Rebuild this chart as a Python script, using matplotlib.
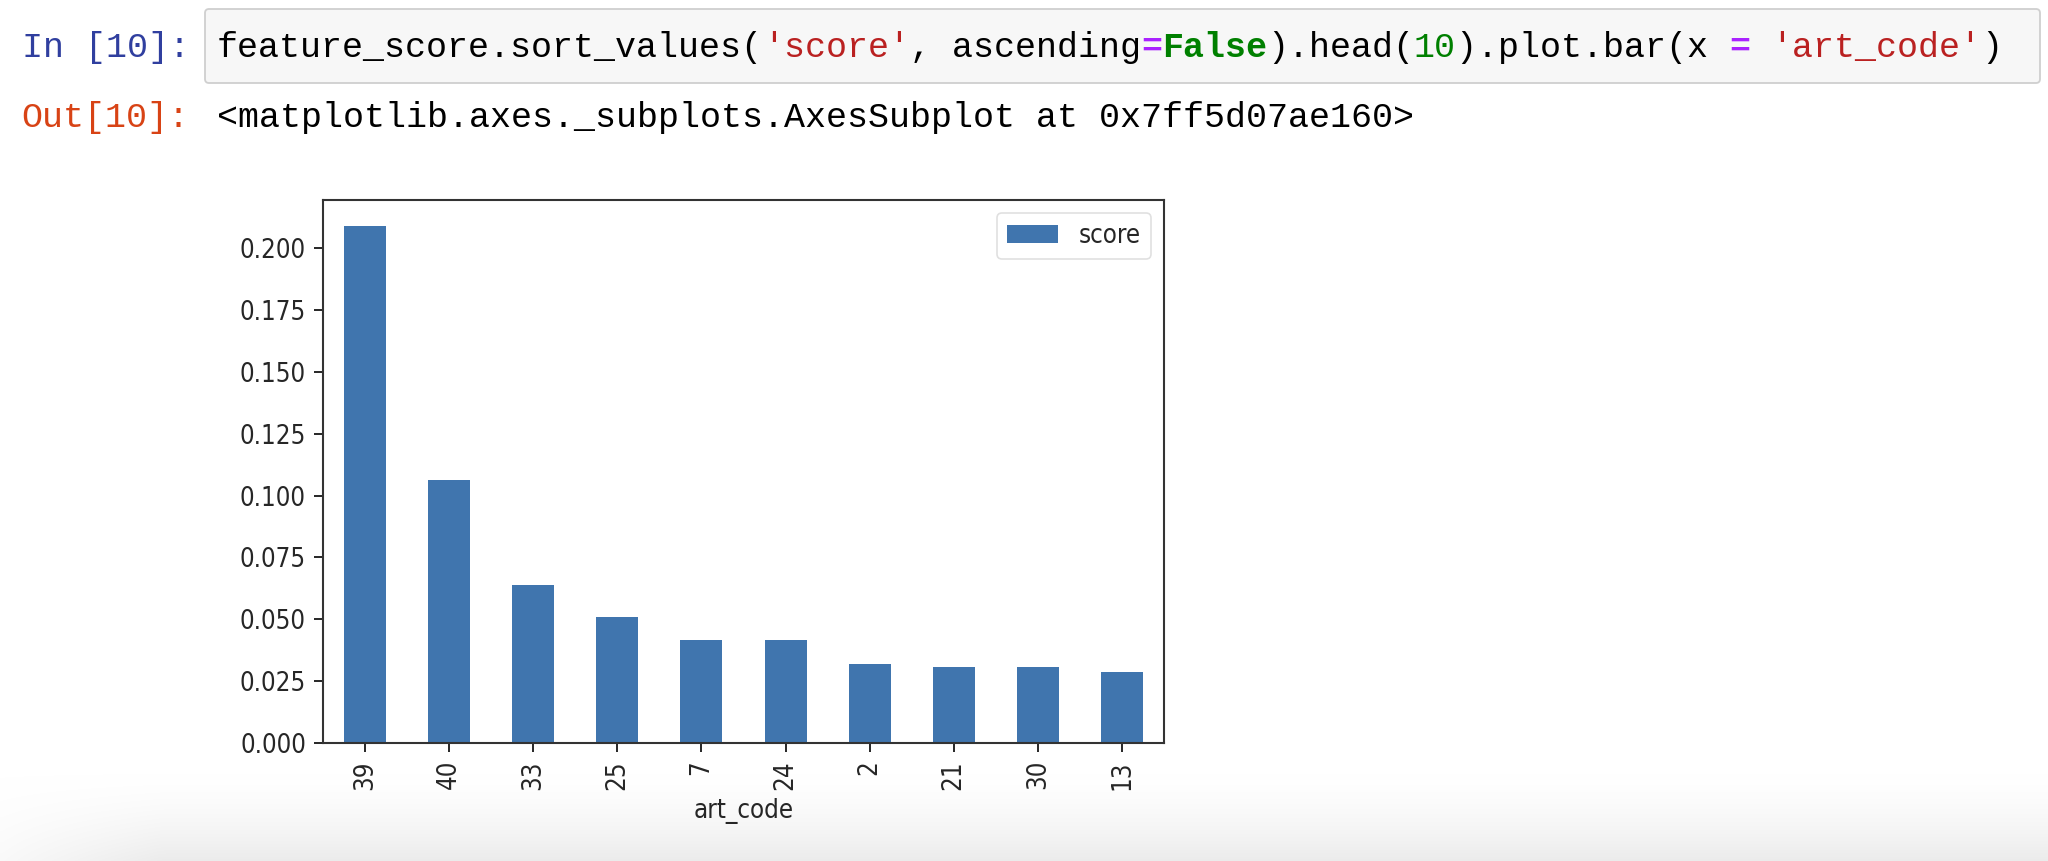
import numpy as np
import matplotlib
matplotlib.use("Agg")
import matplotlib.pyplot as plt
from matplotlib.patches import FancyBboxPatch
from matplotlib import font_manager

# ---- data ----
art_codes = ["39", "40", "33", "25", "7", "24", "2", "21", "30", "13"]
scores = [0.2090, 0.1062, 0.0638, 0.0510, 0.0418, 0.0418, 0.0318, 0.0307, 0.0307, 0.0286]
series_name = "score"
x_label = "art_code"

code_segments = [
    ("feature_score.sort_values(", "#000000", "normal"),
    ("'score'", "#BA2121", "normal"),
    (", ascending", "#000000", "normal"),
    ("=", "#AA22FF", "bold"),
    ("False", "#008000", "bold"),
    (").head(", "#000000", "normal"),
    ("10", "#008000", "normal"),
    (").plot.bar(x ", "#000000", "normal"),
    ("=", "#AA22FF", "bold"),
    (" ", "#000000", "normal"),
    ("'art_code'", "#BA2121", "normal"),
    (")", "#000000", "normal"),
]
in_prompt = "In [10]:"
out_prompt = "Out[10]:"
out_text = "<matplotlib.axes._subplots.AxesSubplot at 0x7ff5d07ae160>"

# pick a narrow sans font for the chart (the screenshot's chart text is squeezed)
chart_fp = None
for fe in font_manager.fontManager.ttflist:
    if fe.name == "DejaVu Sans" and str(fe.stretch) in ("condensed", "semi-condensed") \
            and fe.style == "normal" and str(fe.weight) in ("400", "normal"):
        chart_fp = fe.fname
        break
if chart_fp is None:
    for fe in font_manager.fontManager.ttflist:
        if fe.name == "Liberation Sans Narrow" and fe.style == "normal" and str(fe.weight) in ("400", "normal"):
            chart_fp = fe.fname
            break

def cfp(size):
    if chart_fp:
        return font_manager.FontProperties(fname=chart_fp, size=size)
    return font_manager.FontProperties(family="DejaVu Sans", size=size)

W, H = 2048, 861
DPI = 100
fig = plt.figure(figsize=(W / DPI, H / DPI), dpi=DPI)
fig.patch.set_facecolor("white")

bg = fig.add_axes([0, 0, 1, 1], zorder=0)
bg.set_xlim(0, W)
bg.set_ylim(H, 0)
bg.axis("off")

# bottom shadow gradient
gy0 = 770
ny, nx = 100, 400
yy = np.linspace(0, 1, ny)[:, None]
xx = np.linspace(0, 1, nx)[None, :]
fx = np.clip(xx * W / 160.0, 0, 1)
alpha = (yy ** 1.6) * (0.3 + 0.7 * fx)
grad = np.ones((ny, nx, 4))
grad[..., :3] = 0.90
grad[..., 3] = alpha * 0.75
bg.imshow(grad, extent=(0, W, H, gy0), aspect="auto", interpolation="bilinear", zorder=0)

mono = "Liberation Mono"
fs = 25.2
adv = 0.6 * fs * DPI / 72.0  # px per char

box = FancyBboxPatch((205, 9), 2040 - 205, 83 - 9,
                     boxstyle="round,pad=0,rounding_size=4",
                     facecolor="#f7f7f7", edgecolor="#cfcfcf", linewidth=1.3, zorder=1)
bg.add_patch(box)

x0 = 217
bg.text(22, 57, in_prompt, family=mono, fontsize=fs, color="#303F9F",
        va="baseline", ha="left", zorder=2)
n = 0
for seg, col, wt in code_segments:
    bg.text(x0 + n * adv, 57, seg, family=mono, fontsize=fs, color=col,
            fontweight=wt, va="baseline", ha="left", zorder=2)
    n += len(seg)

bg.text(21, 127, out_prompt, family=mono, fontsize=fs, color="#D84315",
        va="baseline", ha="left", zorder=2)
bg.text(x0, 127, out_text, family=mono, fontsize=fs, color="#000000",
        va="baseline", ha="left", zorder=2)

# ---- the chart ----
left, right, top, bottom = 323, 1164, 200, 743
ax = fig.add_axes([left / W, 1 - bottom / H, (right - left) / W, (bottom - top) / H], zorder=3)
ax.set_facecolor("white")
tc = "#262626"
pos = np.arange(len(art_codes))
ax.bar(pos, scores, width=0.5, color="#4075AE", label=series_name, zorder=2)
ax.set_xlim(-0.5, len(art_codes) - 0.5)
ax.set_ylim(0, max(scores) * 1.05)
yt = np.arange(0, 0.2001, 0.025)
ax.set_yticks(yt)
ax.set_yticklabels([f"{v:.3f}" for v in yt], fontproperties=cfp(18.5))
ax.set_xticks(pos)
ax.set_xticklabels(art_codes, rotation=90, fontproperties=cfp(18.5))
for s in ax.spines.values():
    s.set_linewidth(1.5)
    s.set_color("#333333")
ax.tick_params(axis="both", colors=tc, length=6.3, width=1.4, pad=6.0)
ax.set_xlabel(x_label, fontproperties=cfp(18.5), color=tc, labelpad=6)
leg = ax.legend(loc="upper right", prop=cfp(18.5), frameon=True, borderpad=0.4,
                handlelength=2.0, handletextpad=0.8, borderaxespad=0.5)
leg.get_frame().set_edgecolor("#d9d9d9")
leg.get_frame().set_linewidth(1.2)
for t in leg.get_texts():
    t.set_color(tc)

fig.savefig("out.png", dpi=DPI, facecolor="white")
